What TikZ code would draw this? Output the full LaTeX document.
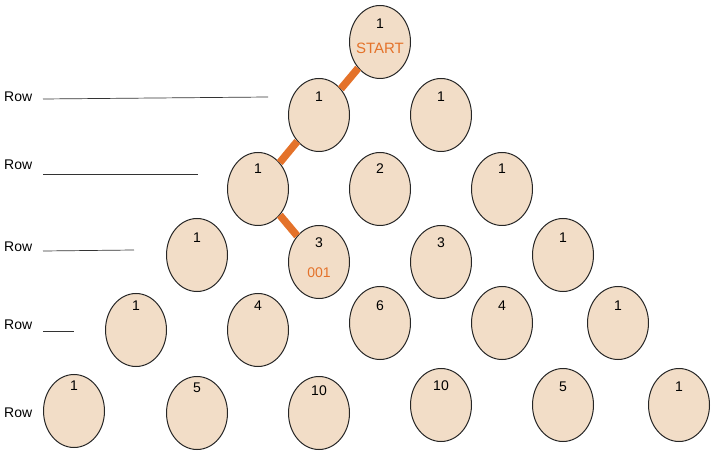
\documentclass[tikz,border=0pt]{standalone}
\usepackage{fontspec}
\setmainfont{Liberation Sans}
\usetikzlibrary{shapes.geometric}
\definecolor{cellfill}{RGB}{242,221,199}
\definecolor{routecol}{RGB}{228,114,42}
\tikzstyle{cell} = [ellipse, minimum width=61pt, minimum height=73pt, inner sep=0pt, text height=0pt, text depth=28pt, draw=black!85, line width=1pt, fill=cellfill, font=\fontsize{14}{17}\selectfont]
\tikzstyle{rowlab} = [anchor=west, inner sep=0pt, font=\fontsize{14}{17}\selectfont]
\tikzstyle{blank} = [line width=0.7pt, draw=black!80]
\tikzstyle{route} = [line width=7.5pt, draw=routecol]

\begin{document}
\begin{tikzpicture}[node distance=122pt]
	\useasboundingbox (0pt,0pt) rectangle (712pt,-454pt);
	\node (s) [cell, text depth=26pt] at (380pt,-42pt) {\begin{tabular}[t]{@{}c@{}}1\\[8pt]\makebox[0pt]{\color{routecol}\fontsize{15}{18}\selectfont START}\end{tabular}};
	\node (r1a) [cell, text depth=26pt, below of=s, xshift=-61pt, yshift=49pt] {1};
	\node (r1b) [cell, text depth=26pt, right of=r1a] {1};
	\node (r2a) [cell, text depth=30pt, below of=r1a, xshift=-61pt, yshift=48pt] {1};
	\node (r2b) [cell, text depth=30pt, right of=r2a] {2};
	\node (r2c) [cell, text depth=30pt, right of=r2b] {1};
	\node (r3a) [cell, text depth=24pt, below of=r2a, xshift=-61pt, yshift=56pt] {1};
	\node (r3b) [cell, right of=r3a, yshift=-7pt] {\begin{tabular}[t]{@{}c@{}}3\\[13pt]\makebox[0pt]{\color{routecol}001}\end{tabular}};
	\node (r3c) [cell, right of=r3b] {3};
	\node (r3d) [cell, text depth=24pt, right of=r3c, yshift=7pt] {1};
	\node (r4a) [cell, text depth=40pt, below of=r3a, xshift=-61pt, yshift=47pt] {1};
	\node (r4b) [cell, text depth=40pt, right of=r4a] {4};
	\node (r4c) [cell, text depth=26pt, right of=r4b, yshift=7pt] {6};
	\node (r4d) [cell, text depth=24pt, right of=r4c] {4};
	\node (r4e) [cell, text depth=24pt, right of=r4d, xshift=-6pt] {1};
	\node (r5a) [cell, text depth=42pt, below of=r4a, xshift=-62pt, yshift=41pt] {1};
	\node (r5b) [cell, text depth=42pt, right of=r5a, xshift=1pt, yshift=-2pt] {5};
	\node (r5c) [cell, text depth=36pt, right of=r5b] {10};
	\node (r5d) [cell, text depth=30pt, right of=r5c, yshift=8pt] {10};
	\node (r5e) [cell, right of=r5d] {5};
	\node (r5f) [cell, right of=r5e, xshift=-6pt] {1};
	\node (row1) [rowlab] at (4pt,-97pt) {Row};
	\node (row2) [rowlab] at (4pt,-165pt) {Row};
	\node (row3) [rowlab] at (4pt,-247pt) {Row};
	\node (row4) [rowlab] at (4pt,-325pt) {Row};
	\node (row5) [rowlab] at (4pt,-413pt) {Row};
	\coordinate (b1s) at (43pt,-99pt);
	\coordinate (b1e) at (268pt,-97pt);
	\coordinate (b2s) at (43pt,-174pt);
	\coordinate (b2e) at (198pt,-174pt);
	\coordinate (b3s) at (43pt,-251pt);
	\coordinate (b3e) at (134pt,-250pt);
	\coordinate (b4s) at (43pt,-331pt);
	\coordinate (b4e) at (74pt,-331pt);
	\draw [blank] (b1s) -- (b1e);
	\draw [blank] (b2s) -- (b2e);
	\draw [blank] (b3s) -- (b3e);
	\draw [blank] (b4s) -- (b4e);
	\draw [route] (s) -- (r1a);
	\draw [route] (r1a) -- (r2a);
	\draw [route] (r2a) -- (r3b);
\end{tikzpicture}
\end{document}
